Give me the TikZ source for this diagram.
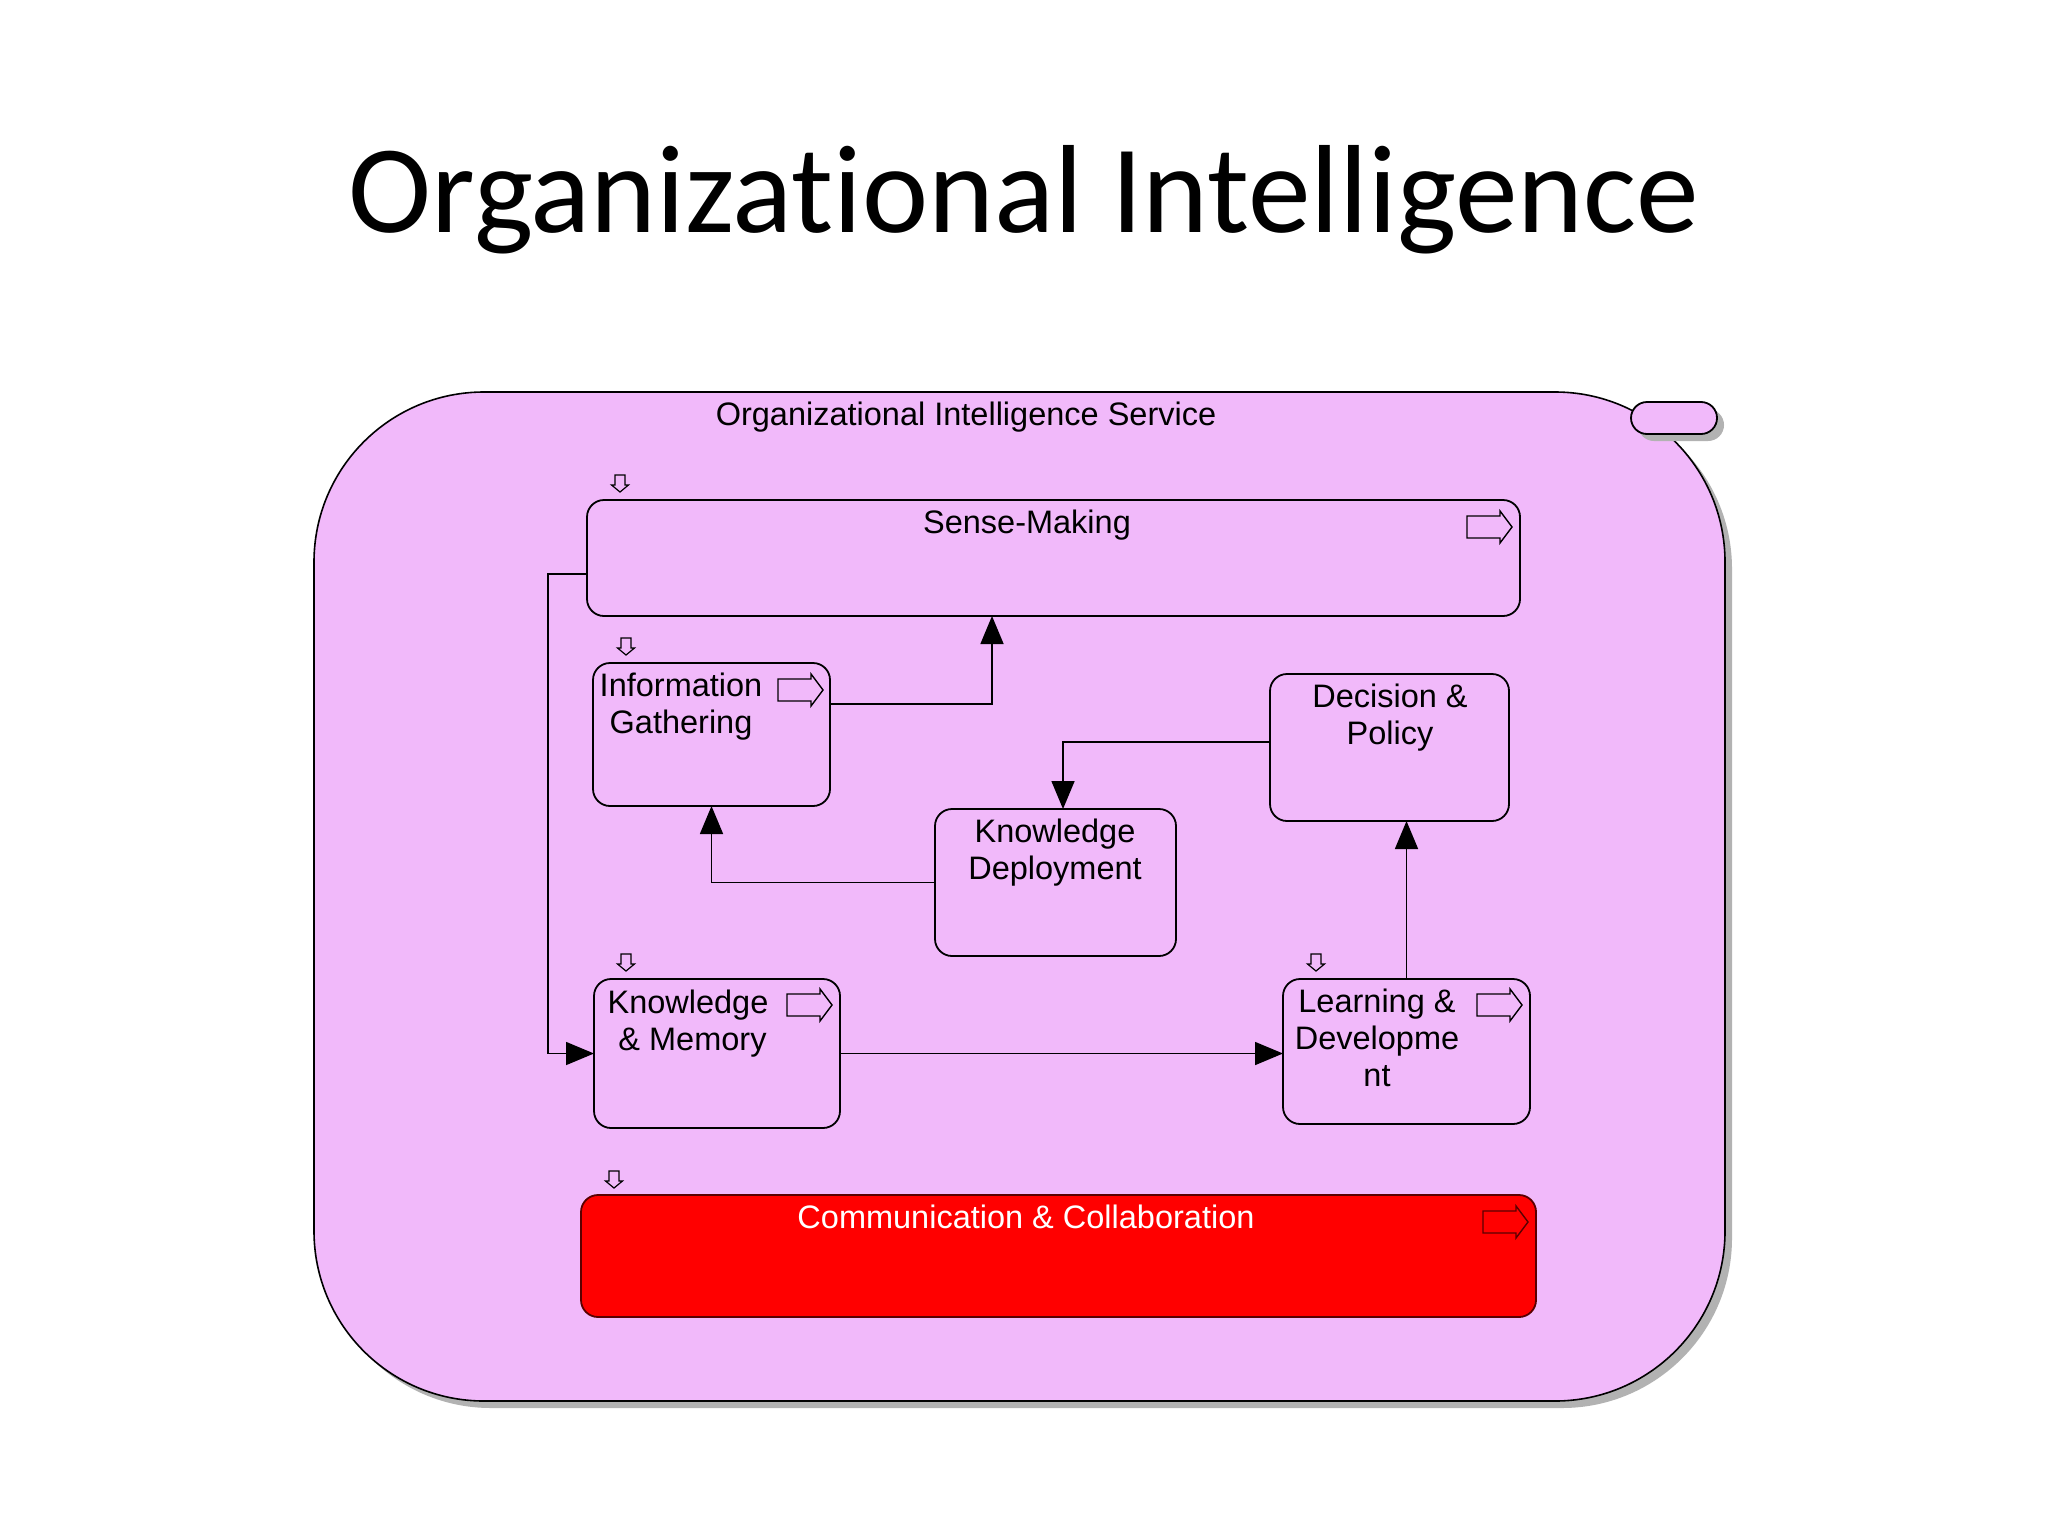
\documentclass[tikz,border=0pt]{standalone}
\usepackage{fontspec}
\setmainfont{Liberation Sans}
\newfontfamily\titlefont[Ligatures=NoCommon]{Carlito}
\usetikzlibrary{arrows.meta,calc}
\definecolor{lav}{RGB}{241,185,250}
\definecolor{shad}{RGB}{178,178,178}
\definecolor{dred}{RGB}{90,0,0}
\begin{document}
\begin{tikzpicture}[x=0.5pt,y=-0.5pt,
  box/.style={draw,line width=0.9pt,rounded corners=8.5pt,fill=lav,inner sep=0pt,outer sep=0pt},
  lbl/.style={font=\fontsize{16.25}{18.5}\selectfont,align=center,anchor=base,inner sep=0pt},
  conn/.style={line width=0.8pt,-{Triangle[length=14pt,width=11.5pt]}},
  ricon/.pic={\draw[line width=0.7pt] (0,5) -- (33,5) -- (33,0) -- (45,16) -- (33,32) -- (33,27) -- (0,27) -- cycle;},
  dicon/.pic={\draw[line width=0.6pt] (-5,0) -- (5,0) -- (5,10) -- (8.5,10) -- (0,17) -- (-8.5,10) -- (-5,10) -- cycle;}
]
\useasboundingbox (0,0) rectangle (2048,1536);
\fill[white] (0,0) rectangle (2048,1536);

% title
\node[font=\titlefont\fontsize{62.7}{70}\selectfont,anchor=base,inner sep=0pt] (title) at (1024,232) {Organizational Intelligence};

% outer service shape
\fill[shad,rounded corners=85pt] (321,399) rectangle (1732,1408);
\node[draw,line width=0.8pt,fill=lav,rounded corners=85pt,minimum width=705.5pt,minimum height=504.5pt,inner sep=0pt] (oi) at (1019.5,896.5) {};
\node[lbl] (oit) at (966,425) {Organizational Intelligence Service};

% pill
\fill[shad,rounded corners=8pt] (1638,409) rectangle (1724,441);
\node[draw,line width=0.9pt,fill=lav,rounded corners=8pt,minimum width=43pt,minimum height=16pt,inner sep=0pt] (pill) at (1674,418) {};

% boxes
\node[box,minimum width=466.5pt,minimum height=58pt] (sm) at (1053.5,558) {};
\node[box,minimum width=118.5pt,minimum height=71.5pt] (ig) at (711.5,734.5) {};
\node[box,minimum width=119.5pt,minimum height=73.5pt] (dp) at (1389.5,747.5) {};
\node[box,minimum width=120.5pt,minimum height=73.5pt] (kd) at (1055.5,882.5) {};
\node[box,minimum width=123pt,minimum height=74.5pt] (km) at (717,1053.5) {};
\node[box,minimum width=123.5pt,minimum height=72.5pt] (ld) at (1406.5,1051.5) {};
\node[box,draw=dred,fill=red,minimum width=477.5pt,minimum height=61pt] (cc) at (1058.5,1256) {};

% labels (base anchor = baseline of last line)
\node[lbl] (smt) at (1027,533) {Sense-Making};
\node[lbl] (igt) at (681,733) {Information\\Gathering};
\node[lbl] (dpt) at (1390,744) {Decision \&\\Policy};
\node[lbl] (kdt) at (1055,879) {Knowledge\\Deployment};
\node[lbl] (kmt) at (688,1050) {Knowledge\\\ \& Memory};
\node[lbl] (ldt) at (1377,1086) {Learning \&\\Developme\\nt};
\node[lbl,text=white] (cct) at (1026,1228) {Communication \& Collaboration};

% icons
\pic at (1467,511) {ricon};
\pic at (778,674) {ricon};
\pic at (787,989) {ricon};
\pic at (1477,989) {ricon};
\pic[color=dred] at (1483,1206) {ricon};
\pic at (620,475) {dicon};
\pic at (626,638) {dicon};
\pic at (626,954) {dicon};
\pic at (1316,954) {dicon};
\pic at (614,1171) {dicon};

% connectors
\draw[conn] ($(sm.north west)+(0,74)$) -- ++(-39,0) |- (km.west);
\draw[conn] ($(ig.north east)+(0,41)$) -| ($(sm.south west)+(405,0)$);
\draw[conn] ($(dp.north west)+(0,68)$) -| ($(kd.north west)+(128,0)$);
\draw[conn] (kd.west) -| (ig.south);
\draw[conn] (km.east) -- (km.east -| ld.west);
\draw[conn] (ld.north) -- (ld.north |- dp.south);
\end{tikzpicture}
\end{document}
